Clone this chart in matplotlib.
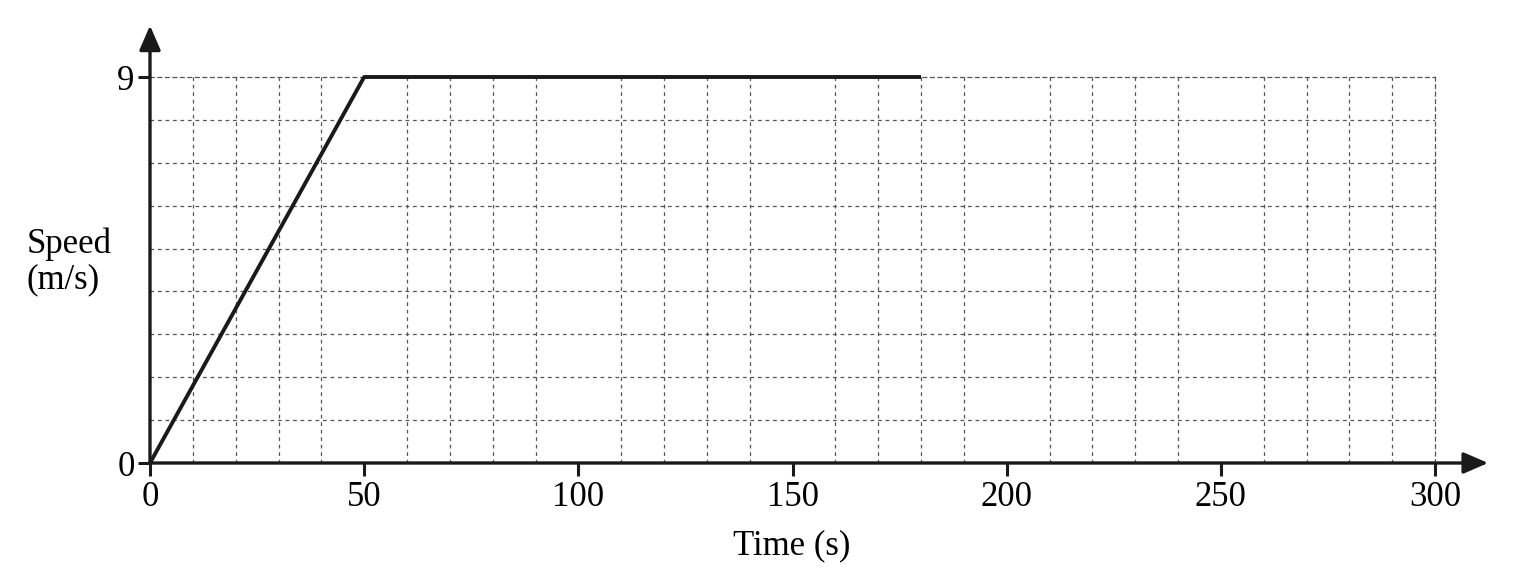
import matplotlib.pyplot as plt

# speed-time graph data
time_s = [0, 50, 180]
speed_ms = [0, 9, 9]
x_ticks = [0, 50, 100, 150, 200, 250, 300]
y_ticks = [0, 9]

plt.rcParams['font.family'] = ['Liberation Serif', 'DejaVu Serif']

fig = plt.figure(figsize=(15.36, 5.82), dpi=100)
ax = fig.add_axes([150 / 1536, 1 - 463 / 582, 1285 / 1536, 386 / 582])

ax.set_xlim(0, 300)
ax.set_ylim(0, 9)

# dashed grid every 10 s and 1 m/s
ax.set_xticks(range(0, 301, 10), minor=True)
ax.set_yticks(range(0, 10), minor=True)
ax.grid(which='minor', color='#555555', linestyle=(0, (3, 3)), linewidth=0.9)
ax.tick_params(which='minor', length=0)

for side in ['left', 'bottom']:
    ax.spines[side].set_visible(False)
for side in ['top', 'right']:
    ax.spines[side].set_linestyle((0, (3, 3)))
    ax.spines[side].set_color('#555555')
    ax.spines[side].set_linewidth(0.9)

ax.set_xticks(x_ticks)
ax.set_yticks(y_ticks)
ax.tick_params(which='major', length=9, width=2.2, color='#1a1a1a',
               labelsize=25)
ax.tick_params(axis='x', which='major', pad=4)
ax.tick_params(axis='y', which='major', pad=2)

# axes with arrowheads
arrow = dict(arrowstyle='-|>,head_length=1.5,head_width=0.65', color='#1a1a1a',
             lw=2.4, shrinkA=0, shrinkB=0)
ax.annotate('', xy=(312.4, 0), xytext=(0, 0), arrowprops=arrow,
            annotation_clip=False)
ax.annotate('', xy=(0, 10.2), xytext=(0, 0), arrowprops=arrow,
            annotation_clip=False)

ax.plot(time_s, speed_ms, color='#1a1a1a', linewidth=2.8,
        solid_capstyle='butt', clip_on=False, zorder=5)

fig.text(27 / 1536, 1 - 262 / 582, 'Speed\n(m/s)', fontsize=25,
         ha='left', va='center', multialignment='left', linespacing=1.1)
fig.text(792 / 1536, 1 - 546 / 582, 'Time (s)', fontsize=25,
         ha='center', va='center')

fig.savefig('out.png', dpi=100)
